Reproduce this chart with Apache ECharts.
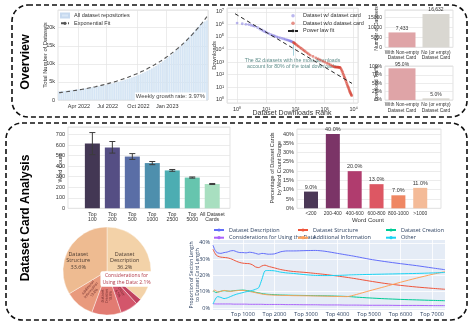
<!DOCTYPE html>
<html><head><meta charset="utf-8">
<script src="https://cdn.jsdelivr.net/npm/echarts@6/dist/echarts.min.js"></script>
<style>html,body{margin:0;padding:0;background:#fff}#c{width:474px;height:325px}</style>
</head><body><div id="c"></div>
<script>
// ---------- DATA ----------
const weekDates = ['2022-01-24','2022-01-31','2022-02-07','2022-02-14','2022-02-21','2022-02-28','2022-03-07','2022-03-14','2022-03-21','2022-03-28','2022-04-04','2022-04-11','2022-04-18','2022-04-25','2022-05-02','2022-05-09','2022-05-16','2022-05-23','2022-05-30','2022-06-06','2022-06-13','2022-06-20','2022-06-27','2022-07-04','2022-07-11','2022-07-18','2022-07-25','2022-08-01','2022-08-08','2022-08-15','2022-08-22','2022-08-29','2022-09-05','2022-09-12','2022-09-19','2022-09-26','2022-10-03','2022-10-10','2022-10-17','2022-10-24','2022-10-31','2022-11-07','2022-11-14','2022-11-21','2022-11-28','2022-12-05','2022-12-12','2022-12-19','2022-12-26','2023-01-02','2023-01-09','2023-01-16','2023-01-23','2023-01-30','2023-02-06','2023-02-13','2023-02-20','2023-02-27','2023-03-06','2023-03-13','2023-03-20','2023-03-27','2023-04-03','2023-04-10','2023-04-17','2023-04-24','2023-05-01','2023-05-08'];
const growthTickDates = ['2022-03-28','2022-06-27','2022-10-03','2023-01-02'];
const growthTickNames = ['Apr 2022','Jul 2022','Oct 2022','Jan 2023'];
// thousands of datasets
const repoCounts = [2.40,2.45,2.50,2.56,2.62,2.68,2.75,2.82,2.90,2.97,3.05,3.13,3.21,3.30,3.39,3.48,3.58,3.68,3.79,3.90,4.02,4.14,4.27,4.41,4.55,4.70,4.86,5.02,5.19,5.37,5.56,5.76,5.97,6.19,6.42,6.66,6.91,7.17,7.45,7.74,8.04,8.36,8.70,9.05,9.42,9.81,10.22,10.65,11.10,11.57,12.06,12.57,13.10,13.65,14.22,14.81,15.42,16.05,16.70,17.37,18.06,18.77,19.50,20.20,20.75,21.30,21.70,22.00];
const expFit = [2.03,2.10,2.18,2.26,2.34,2.43,2.52,2.61,2.71,2.81,2.91,3.02,3.13,3.25,3.37,3.49,3.62,3.76,3.89,4.04,4.19,4.34,4.50,4.67,4.84,5.02,5.21,5.40,5.60,5.81,6.02,6.24,6.48,6.72,6.96,7.22,7.48,7.76,8.05,8.34,8.65,8.97,9.30,9.65,10.01,10.38,10.76,11.16,11.57,12.00,12.44,12.90,13.38,13.87,14.39,14.92,15.47,16.04,16.64,17.25,17.89,18.55,19.24,19.95,20.69,21.45,22.24,23.06];

const rankWithCard = [1,1.5,2,2.5,3,3.5,4,5,6,7,8,9,10,12,14,16,18,20,23,26,30,35,40,45,50,55,60,65,70,75,82];
const dlWithCard = [1260000,1120000,1000000,955000,851000,759000,692000,562000,417000,355000,295000,263000,229000,191000,158000,138000,126000,115000,100000,91000,83000,76000,69000,63000,59000,55000,51000,48000,45000,42000,38000];
const rankNoCard = [85,90,95,100,110,120,130,145,160,180,200,220,250,280,320,400,500,600,700,850,1000,1200,1400,1600,1800,2000,2200,2350,2500,2650,2800,2950,3100,3250,3400,3600,3800,4000,4200,4400,4600,4800,5000,5250,5500,5750,6000,6250,6500,6750,7000,7250,7500,7750,8000,8250,8500];
const dlNoCard = [36000,33000,30000,27000,23000,19500,17000,14100,12000,9500,8000,6700,5400,4450,3500,2800,2150,1800,1500,1200,1000,800,700,600,500,450,400,400,395,390,390,385,380,375,370,300,240,185,140,105,80,62,48,36,27,20,15.5,12,9.5,7.5,6,4.8,4,3.3,2.8,2.4,2.1];
const fitRank = [0.85, 8700];
const fitDl = [7000000, 20];

const cardCats = ['With Non-empty\nDataset Card','No (or empty)\nDataset Card'];
const datasetCounts = [7433, 16632];
const trafficShare = [95.0, 5.0];

const wcCats = ['Top\n100','Top\n200','Top\n500','Top\n1000','Top\n2500','Top\n5000','All Dataset\nCards'];
const wcMean = [615, 578, 492, 430, 360, 292, 231];
const wcLow  = [510, 525, 465, 415, 352, 287, 226];
const wcHigh = [720, 635, 520, 445, 369, 298, 236];

const rangeCats = ['<200','200-400','400-600','600-800','800-1000','>1000'];
const rangePct = [9.0, 40.0, 20.0, 13.0, 7.0, 11.0];

const pieNames = ['Dataset Description','Considerations for Using the Data','Other','Dataset Creation','Additional Information','Dataset Structure'];
const pieValues = [36.2, 2.1, 6.5, 10.8, 10.8, 33.6];

const lineTicks = [1000,2000,3000,4000,5000,6000,7000];
const lineX = [50,100,150,200,300,400,500,600,700,800,900,1000,1100,1200,1300,1400,1500,1600,1700,1800,2000,2200,2400,2600,3000,3300,3600,4000,4300,4400,4600,5000,5500,6000,6500,7000,7410];
const secDescription = [38.5,36.0,34.5,33.8,33.5,34.0,34.3,35.0,35.2,34.5,34.0,34.0,33.8,34.2,34.0,33.5,33.0,33.5,33.3,33.0,33.2,34.5,35.0,35.0,35.2,35.3,34.8,33.5,32.5,32.2,31.5,30.0,28.5,27.2,26.0,24.6,23.5];
const secStructure = [36.0,34.0,32.5,31.8,31.2,31.0,30.8,30.3,29.5,28.6,27.9,27.5,27.3,27.2,26.5,25.2,24.8,25.8,26.3,25.6,24.6,23.6,22.9,22.4,21.8,21.2,20.6,19.6,18.8,18.5,17.9,16.6,15.1,13.9,12.9,12.1,11.5];
const secCreation = [10.5,10.0,9.5,9.8,10.3,10.6,10.4,10.3,10.6,10.8,10.9,11.0,10.8,10.5,10.1,9.7,9.3,8.9,8.6,8.4,8.2,8.0,7.9,7.8,7.7,7.6,7.5,7.3,7.1,7.0,6.7,6.2,5.7,5.3,5.0,4.7,4.5];
const secConsiderations = [2.6,2.6,2.5,2.5,2.5,2.5,2.5,2.5,2.4,2.4,2.4,2.4,2.4,2.3,2.3,2.3,2.3,2.3,2.2,2.2,2.2,2.2,2.1,2.1,2.0,2.0,1.9,1.9,1.8,1.8,1.8,1.7,1.7,1.6,1.6,1.5,1.5];
const secAdditional = [10.0,11.0,10.5,9.8,10.2,10.8,10.5,10.2,10.5,10.6,10.8,10.8,10.5,10.2,9.8,9.4,9.0,8.6,8.3,8.1,7.9,7.8,7.7,7.6,7.5,7.4,7.3,7.1,7.0,7.3,8.3,10.5,13.1,15.8,18.3,20.6,22.3];
const secOther = [2.5,4.5,6.3,7.0,6.5,5.8,6.2,7.0,7.8,8.5,9.0,9.5,10.0,10.3,10.8,11.5,12.5,17.5,22.8,23.0,22.8,22.0,21.5,21.2,20.4,20.0,19.9,20.0,20.2,20.3,20.4,20.6,20.8,21.0,21.2,21.5,21.8];

// ---------- STYLE ----------
const FONT = '"Liberation Sans", Arial, sans-serif';
const PFONT = '"Open Sans", sans-serif';
const sup = ['⁰','¹','²','³','⁴','⁵','⁶','⁷','⁸'];
const GL = {show:true, lineStyle:{color:'#e4e4e4', width:0.7}};
const LBL = {fontSize:5.5, color:'#333', fontFamily:FONT, margin:3};
const wcColors = ['#433754','#554e84','#5a6ea6','#4e8fad','#4cadb2','#66c5ae','#a8dfc0'];
const rangeColors = ['#4b3857','#7b3467','#b03c6e','#dd5763','#ef8763','#f4bb98'];
const cardColors = ['#dfa4a7','#d9d7d1'];
const pieColors = ['#f3d2a8','#c0415e','#d3566b','#e27b72','#e99a7d','#eebb91'];
const lineColors = ['#636EFA','#EF553B','#00CC96','#AB63FA','#FFA15A','#19D3F3'];

function logFmt(v){ const e = Math.log10(v); const r = Math.round(e); return Math.abs(e-r) < 1e-6 ? '10' + sup[r] : ''; }
function ax(o){ return Object.assign({axisLine:{show:false}, axisTick:{show:false}, splitLine:GL}, o); }
function rtext(x, y, txt, size, extra){
  return {type:'text', x:x, y:y, rotation:Math.PI/2, silent:true,
    style:Object.assign({text:txt, fontSize:size, fontFamily:FONT, fill:'#333', align:'center', verticalAlign:'middle', lineHeight:size*1.2}, extra||{})};
}
function htext(x, y, txt, size, extra){
  return {type:'text', x:x, y:y, silent:true,
    style:Object.assign({text:txt, fontSize:size, fontFamily:FONT, fill:'#333', align:'center', verticalAlign:'middle', lineHeight:size*1.2}, extra||{})};
}

const pieData = pieNames.map((n, i) => {
  const item = {name:n, value:pieValues[i], itemStyle:{color:pieColors[i]}};
  if (i === 0) item.label = {formatter:'Dataset\nDescription\n{c}%', offset:[-5,0]};
  else if (i === 5) item.label = {formatter:'Dataset\nStructure\n{c}%', offset:[-7,2]};
  else if (i === 1) item.label = {show:false};
  else item.label = {formatter: n.split(' ').join('\n') + '\n{c}%', rotate:'radial', fontSize:3.6, lineHeight:4, color:'#6a2a2a'};
  return item;
});

const option = {
  animation:false,
  backgroundColor:'#fff',
  textStyle:{fontFamily:FONT},
  graphic:[
    {type:'rect', silent:true, shape:{x:12, y:5, width:455, height:112, r:16}, style:{fill:'none', stroke:'#111', lineWidth:1.6, lineDash:[5,3]}},
    {type:'rect', silent:true, shape:{x:6, y:123, width:461, height:197, r:16}, style:{fill:'none', stroke:'#111', lineWidth:1.6, lineDash:[5,3]}},
    rtext(26, 62, 'Overview', 12.5, {fontWeight:'bold', fill:'#000'}),
    rtext(26, 218, 'Dataset Card Analysis', 12, {fontWeight:'bold', fill:'#000'}),
    rtext(45, 55, 'Total Number of Datasets', 5.8),
    {type:'text', silent:true, x:206, y:96.5, z:10, style:{text:'Weekly growth rate: 3.97%', fontSize:5.8, fontFamily:FONT, fill:'#444', align:'right', verticalAlign:'middle', backgroundColor:'#fff', padding:[1,1]}},
    rtext(214, 55.5, 'Downloads', 5.8),
    htext(292, 113, 'Dataset Downloads Rank', 7),
    htext(292.5, 63.5, 'The 82 datasets with the most downloads\naccount for 80% of the total downloads.', 5.2, {fill:'#5f8d8a', lineHeight:6.6}),
    rtext(377, 28.5, 'Number of Datasets', 5),
    rtext(377, 83, 'Download Traffic', 5),
    rtext(60, 168, 'Word Count', 5.5),
    rtext(276, 168, 'Percentage of Dataset Cards\nby Word Count Range', 5.5, {lineHeight:6.3}),
    htext(368, 220, 'Word Count', 6),
    rtext(195, 275, 'Proportion of Section Length\nto Dataset Card Length', 5, {fontFamily:PFONT, fill:'#2a3f5f', lineHeight:6}),
    {type:'text', silent:true, x:126.5, y:279, z:20,
     style:{text:'Considerations for\nUsing the Data: ' + pieValues[1].toFixed(1) + '%', fontSize:5, lineHeight:6.2, fontFamily:PFONT, fill:'#b23a48', align:'center', verticalAlign:'middle', backgroundColor:'#fff', borderRadius:2, padding:[1.5,2]}}
  ],
  grid:[
    {left:58, top:10, width:150, height:90, show:true, borderColor:'#d6d6d6', borderWidth:0.7},
    {left:227, top:8, width:131, height:95, show:true, borderColor:'#d6d6d6', borderWidth:0.7},
    {left:385, top:10, width:68, height:37.3, show:true, borderColor:'#d6d6d6', borderWidth:0.7},
    {left:385, top:66, width:68, height:34, show:true, borderColor:'#d6d6d6', borderWidth:0.7},
    {left:68, top:127, width:162, height:81.3, show:true, borderColor:'#d6d6d6', borderWidth:0.7},
    {left:297, top:129, width:144, height:79.3, show:true, borderColor:'#d6d6d6', borderWidth:0.7},
    {left:213, top:240, width:232, height:70, show:true, backgroundColor:'#e5ecf6', borderWidth:0}
  ],
  xAxis:[
    ax({type:'category', gridIndex:0, data:weekDates, boundaryGap:true,
        axisLabel:Object.assign({}, LBL, {interval:(i,v)=>growthTickDates.includes(v), formatter:v=>growthTickNames[growthTickDates.indexOf(v)] || ''}),
        splitLine:{show:true, interval:(i,v)=>growthTickDates.includes(v), lineStyle:{color:'#e4e4e4', width:0.7}}}),
    ax({type:'log', gridIndex:1, logBase:10, min:0.45, max:14000, axisLabel:Object.assign({}, LBL, {formatter:logFmt})}),
    ax({type:'category', gridIndex:2, data:cardCats, splitLine:{show:false}, axisLabel:Object.assign({}, LBL, {fontSize:4.8, lineHeight:5.2, interval:0, margin:2.5})}),
    ax({type:'category', gridIndex:3, data:cardCats, splitLine:{show:false}, axisLabel:Object.assign({}, LBL, {fontSize:4.8, lineHeight:5.2, interval:0, margin:2.5})}),
    ax({type:'value', gridIndex:4, min:-1.22, max:6.89, splitLine:{show:false},
        axisLabel:Object.assign({}, LBL, {fontSize:5.2, lineHeight:5.6, customValues:[0,1,2,3,4,5,6], formatter:v=>wcCats[v] || ''})}),
    ax({type:'value', gridIndex:5, min:-0.64, max:5.95, splitLine:{show:false},
        axisLabel:Object.assign({}, LBL, {fontSize:4.9, customValues:[0,1,2,3,4,5], formatter:v=>rangeCats[v] || ''})}),
    {type:'value', gridIndex:6, min:50, max:7410, splitNumber:7, axisLine:{show:false},
     axisTick:{show:false, customValues:lineTicks},
     axisLabel:{fontSize:5.5, color:'#2a3f5f', fontFamily:PFONT, margin:1.5, customValues:lineTicks, formatter:v=>'Top ' + v},
     splitLine:{show:true, lineStyle:{color:'#fff', width:0.8}}}
  ],
  yAxis:[
    ax({type:'value', gridIndex:0, min:0, max:24.9, interval:5, axisLabel:Object.assign({}, LBL, {formatter:v=>(v%5===0 ? (v===0?'0':v+'k') : '')})}),
    ax({type:'log', gridIndex:1, logBase:10, min:0.55, max:20000000, axisLabel:Object.assign({}, LBL, {formatter:logFmt})}),
    ax({type:'value', gridIndex:2, min:0, max:18650, interval:5000, axisLabel:Object.assign({}, LBL, {fontSize:5, formatter:v=>(v%5000===0 ? String(v) : '')})}),
    ax({type:'value', gridIndex:3, min:0, max:102, interval:25, axisLabel:Object.assign({}, LBL, {fontSize:5, formatter:v=>(v%25===0 ? v+'%' : '')})}),
    ax({type:'value', gridIndex:4, min:0, max:773, interval:100, axisLabel:Object.assign({}, LBL, {formatter:v=>(v%100===0 ? String(v) : '')})}),
    ax({type:'value', gridIndex:5, min:0, max:42.7, interval:5, axisLabel:Object.assign({}, LBL, {formatter:v=>(v%5===0 ? v+'%' : '')})}),
    {type:'value', gridIndex:6, min:-1.2, max:41.7, axisLine:{show:false},
     axisTick:{show:false, customValues:[0,10,20,30,40]},
     axisLabel:{fontSize:5.5, color:'#2a3f5f', fontFamily:PFONT, margin:3, customValues:[0,10,20,30,40], formatter:'{value}%'},
     splitLine:{show:true, lineStyle:{color:'#fff', width:0.8}}}
  ],
  legend:[
    {left:60, top:12, orient:'vertical', itemWidth:8, itemHeight:4, itemGap:0.8, padding:0,
     textStyle:{fontSize:5.5, color:'#333', fontFamily:FONT, lineHeight:7},
     data:[{name:'All dataset repositories', icon:'rect'}, {name:'Exponential Fit'}]},
    {left:287, top:12.2, orient:'vertical', itemWidth:10, itemHeight:3.5, itemGap:0.6, padding:0,
     textStyle:{fontSize:5.5, color:'#333', fontFamily:FONT, lineHeight:7},
     data:[{name:'Dataset w/ dataset card', icon:'circle'}, {name:'Dataset w/o dataset card', icon:'circle'}, {name:'Power law fit'}]},
    {left:213, top:226.5, itemWidth:10, itemHeight:4, padding:0, textStyle:{fontSize:5.5, color:'#2a3f5f', fontFamily:PFONT, lineHeight:7}, data:['Dataset Description']},
    {left:297, top:226.5, itemWidth:10, itemHeight:4, padding:0, textStyle:{fontSize:5.5, color:'#2a3f5f', fontFamily:PFONT, lineHeight:7}, data:['Dataset Structure']},
    {left:385, top:226.5, itemWidth:10, itemHeight:4, padding:0, textStyle:{fontSize:5.5, color:'#2a3f5f', fontFamily:PFONT, lineHeight:7}, data:['Dataset Creation']},
    {left:213, top:234.2, itemWidth:10, itemHeight:4, padding:0, textStyle:{fontSize:5.5, color:'#2a3f5f', fontFamily:PFONT, lineHeight:7}, data:['Considerations for Using the Data']},
    {left:297, top:234.2, itemWidth:10, itemHeight:4, padding:0, textStyle:{fontSize:5.5, color:'#2a3f5f', fontFamily:PFONT, lineHeight:7}, data:['Additional Information']},
    {left:385, top:234.2, itemWidth:10, itemHeight:4, padding:0, textStyle:{fontSize:5.5, color:'#2a3f5f', fontFamily:PFONT, lineHeight:7}, data:['Other']}
  ],
  series:[
    {name:'All dataset repositories', type:'bar', xAxisIndex:0, yAxisIndex:0, data:repoCounts, barCategoryGap:'18%',
     itemStyle:{color:'#d9e7f6', borderColor:'#c6d9ef', borderWidth:0.3}},
    {name:'Exponential Fit', type:'line', xAxisIndex:0, yAxisIndex:0, data:expFit, symbol:'none', smooth:true,
     lineStyle:{color:'#555', width:1.1, type:[4,3]}, itemStyle:{color:'#555'}, z:5},
    {name:'Dataset w/ dataset card', type:'scatter', xAxisIndex:1, yAxisIndex:1, symbolSize:2.8,
     data:rankWithCard.map((r,i)=>[r, dlWithCard[i]]), itemStyle:{color:'rgba(112,104,222,0.6)'},
     markLine:{silent:true, symbol:'none', label:{show:false}, lineStyle:{color:'#8cc6d6', width:0.8, type:'solid'},
       data:[[{coord:[82, 27000]}, {coord:[82, 3200]}]]}},
    {name:'Dataset w/o dataset card', type:'scatter', xAxisIndex:1, yAxisIndex:1, symbolSize:2.8,
     data:rankNoCard.map((r,i)=>[r, dlNoCard[i]]), itemStyle:{color:'rgba(214,62,48,0.72)'}},
    {name:'Power law fit', type:'line', xAxisIndex:1, yAxisIndex:1, symbol:'none',
     data:fitRank.map((r,i)=>[r, fitDl[i]]), lineStyle:{color:'#222', width:1, type:[4,3]}, itemStyle:{color:'#222'}, z:6},
    {type:'bar', xAxisIndex:2, yAxisIndex:2, data:datasetCounts, barWidth:27,
     itemStyle:{color:p=>cardColors[p.dataIndex]},
     label:{show:true, position:'top', distance:1.5, fontSize:5, color:'#333', formatter:p=>p.value.toLocaleString('en-US')}},
    {type:'bar', xAxisIndex:3, yAxisIndex:3, data:trafficShare, barWidth:27,
     itemStyle:{color:p=>cardColors[p.dataIndex]},
     label:{show:true, position:'top', distance:1.5, fontSize:5, color:'#333', formatter:p=>p.value.toFixed(1)+'%'}},
    {type:'bar', xAxisIndex:4, yAxisIndex:4, barWidth:15, data:wcMean.map((m,i)=>[i, m]),
     itemStyle:{color:p=>wcColors[p.dataIndex]}},
    {type:'custom', xAxisIndex:4, yAxisIndex:4, z:5, data:wcMean.map((m,i)=>[i, wcLow[i], wcHigh[i]]), encode:{x:0, y:[1,2]},
     renderItem:(params, api)=>{
       const x = api.value(0);
       const t = api.coord([x, api.value(2)]), b = api.coord([x, api.value(1)]);
       const hw = 3, st = {stroke:'#3c3c3c', lineWidth:1};
       return {type:'group', children:[
         {type:'line', shape:{x1:t[0], y1:t[1], x2:b[0], y2:b[1]}, style:st},
         {type:'line', shape:{x1:t[0]-hw, y1:t[1], x2:t[0]+hw, y2:t[1]}, style:st},
         {type:'line', shape:{x1:b[0]-hw, y1:b[1], x2:b[0]+hw, y2:b[1]}, style:st}]};
     }},
    {type:'bar', xAxisIndex:5, yAxisIndex:5, barWidth:14, data:rangePct.map((v,i)=>[i, v]),
     itemStyle:{color:p=>rangeColors[p.dataIndex]},
     label:{show:true, position:'top', distance:1.5, fontSize:5.5, color:'#333', formatter:p=>p.value[1].toFixed(1)+'%'}},
    {type:'pie', center:[107, 271], radius:[0, 44], startAngle:90, clockwise:true, data:pieData,
     itemStyle:{borderColor:'#fff', borderWidth:0.4},
     label:{show:true, position:'inside', fontSize:5.5, lineHeight:6.5, color:'#4a3a30', fontFamily:PFONT},
     labelLine:{show:false}, emphasis:{disabled:true}},
    ...[['Dataset Description', secDescription], ['Dataset Structure', secStructure], ['Dataset Creation', secCreation],
        ['Considerations for Using the Data', secConsiderations], ['Additional Information', secAdditional], ['Other', secOther]]
      .map((s, k) => ({name:s[0], type:'line', xAxisIndex:6, yAxisIndex:6, symbol:'none', smooth:0.25,
        data:lineX.map((x,i)=>[x, s[1][i]]), lineStyle:{color:lineColors[k], width:1}, itemStyle:{color:lineColors[k]}}))
  ]
};
const chart = echarts.init(document.getElementById('c'), null, {renderer:'canvas', width:474, height:325});
chart.setOption(option);
</script></body></html>
